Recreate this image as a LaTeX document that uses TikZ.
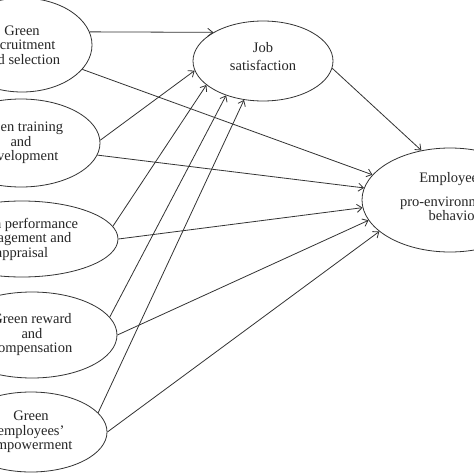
\documentclass[tikz,border=0pt]{standalone}
\usepackage{fontspec}
\setmainfont{Liberation Serif}
\usetikzlibrary{shapes.geometric,arrows.meta}
\begin{document}
\begin{tikzpicture}[x=1pt,y=-1pt,
  txt/.style={align=center,font=\fontsize{14.5}{14.5}\selectfont,text=black!85},
  oval/.style={ellipse,draw=black!80,line width=0.8pt,inner sep=0pt,txt},
  link/.style={draw=black!80,line width=0.8pt,-{Straight Barb[length=5pt,width=8pt]}}]
\useasboundingbox (0,0) rectangle (474,474);
\clip (0,0) rectangle (474,474);
\fill[white] (0,0) rectangle (474,474);
\node[oval,minimum width=140pt,minimum height=94pt] (e1) at (22,45) {Green\\recruitment\\and selection};
\node[oval,minimum width=158pt,minimum height=88pt] (e2) at (21,143) {Green training\\and\\development};
\node[oval,minimum width=192pt,minimum height=76pt] (e3) at (22,239) {Green performance\\management and\\appraisal};
\node[oval,minimum width=170pt,minimum height=86pt] (e4) at (32,335) {Green reward\\and\\compensation};
\node[oval,minimum width=152pt,minimum height=80pt] (e5) at (31,432) {Green\\employees’\\empowerment};
\node[oval,minimum width=140pt,minimum height=80pt] (js) at (263,61) {};
\node[txt] (jst) at (263,57) {Job\\[3.5pt]satisfaction};
\node[oval,minimum width=176pt,minimum height=104pt] (emp) at (450,200) {};
\node[txt] (empt) at (454,197) {Employees’\\[9pt]pro-environmental\\behavior};
\draw[link] (e1.11) -- (js.150);
\draw[link] (e1.-22) -- (emp.162);
\draw[link] (e2.2) -- (js.188);
\draw[link] (e2.-9) -- (emp.172);
\draw[link] (e3.8) -- (js.203);
\draw[link] (e3.0) -- (emp.185);
\draw[link] (e4.13) -- (js.223);
\draw[link] (e4.0) -- (emp.194);
\draw[link] (e5.16) -- (js.244);
\draw[link] (e5.0) -- (emp.204);
\draw[link] (js.-6) -- (emp.120);
\end{tikzpicture}
\end{document}
